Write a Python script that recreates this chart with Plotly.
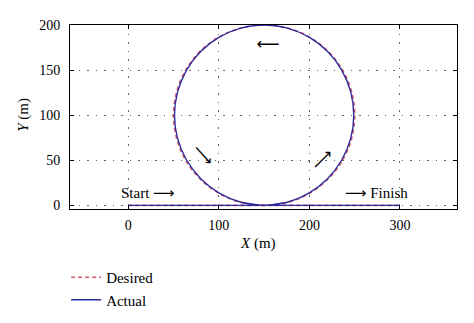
import plotly.graph_objects as go

# Straight runs along the x axis (start -> loop entry, loop exit -> finish)
line_x = [0, 150, 300]
line_y = [0, 0, 0]

# Desired loop waypoints every 15 degrees, counter-clockwise from the bottom
# (one extra waypoint on each end so the spline closes smoothly)
desired_cx = [124.1, 150, 175.9, 200, 220.7, 236.6, 246.6, 250, 246.6, 236.6, 220.7, 200, 175.9,
              150, 124.1, 100, 79.3, 63.4, 53.4, 50, 53.4, 63.4, 79.3, 100, 124.1, 150, 175.9]
desired_cy = [3.4, 0, 3.4, 13.4, 29.3, 50, 74.1, 100, 125.9, 150, 170.7, 186.6, 196.6,
              200, 196.6, 186.6, 170.7, 150, 125.9, 100, 74.1, 50, 29.3, 13.4, 3.4, 0, 3.4]

# Actual (tracked) loop waypoints
actual_cx = [124.4, 150, 175.6, 199.5, 220.0, 235.7, 245.6, 249.0, 245.6, 235.8, 220.1, 199.6, 175.7,
             150, 124.3, 100.4, 79.9, 64.2, 54.4, 51.0, 54.4, 64.3, 80.0, 100.5, 124.4, 150, 175.6]
actual_cy = [3.5, 0, 3.5, 13.7, 29.6, 50.3, 74.3, 100, 125.8, 149.8, 170.5, 186.5, 196.6,
             200, 196.6, 186.5, 170.5, 149.8, 125.8, 100, 74.3, 50.3, 29.6, 13.7, 3.5, 0, 3.5]

x_ticks = [0, 100, 200, 300]
y_ticks = [0, 50, 100, 150, 200]

FONT = "Liberation Serif"
RED = "#d2586a"
BLUE = "#2f2c9c"

fig = go.Figure()
fig.add_trace(go.Scatter(
    x=line_x, y=line_y, mode="lines", name="Desired", legendgroup="d",
    line=dict(color=RED, width=1.6, dash="4px,3px"),
))
fig.add_trace(go.Scatter(
    x=desired_cx, y=desired_cy, mode="lines", name="Desired", legendgroup="d", showlegend=False,
    line=dict(color=RED, width=1.6, dash="4px,3px", shape="spline"),
))
fig.add_trace(go.Scatter(
    x=line_x, y=line_y, mode="lines", name="Actual", legendgroup="a",
    line=dict(color=BLUE, width=1.4),
))
fig.add_trace(go.Scatter(
    x=actual_cx, y=actual_cy, mode="lines", name="Actual", legendgroup="a", showlegend=False,
    line=dict(color=BLUE, width=1.4, shape="spline"),
))

# Text labels
ARROW = "<span style='font-family:DejaVu Sans'>⟶</span>"
fig.add_annotation(x=22, y=14, text="Start " + ARROW,
                   showarrow=False, font=dict(family=FONT, size=15, color="black"))
fig.add_annotation(x=274, y=14, text=ARROW + " Finish",
                   showarrow=False, font=dict(family=FONT, size=15, color="black"))

# Direction-of-travel arrows
arrows = [
    dict(x=154, y=177.6, angle=180),
    dict(x=82.5, y=56, angle=48),
    dict(x=214, y=50.5, angle=-45),
]
for a in arrows:
    fig.add_annotation(x=a["x"], y=a["y"], text="⟶", showarrow=False, textangle=a["angle"],
                       font=dict(family="DejaVu Sans", size=16, color="black"))

# Axis titles
title_font = dict(family=FONT, size=15, color="black")
fig.add_annotation(xref="paper", yref="paper", x=0.486, y=-0.19, text="<i>X</i> (m)",
                   xanchor="center", yanchor="middle", showarrow=False, font=title_font)
fig.add_annotation(xref="paper", yref="paper", x=-0.12, y=0.51, text="<i>Y</i> (m)",
                   xanchor="center", yanchor="middle", showarrow=False, textangle=-90,
                   font=title_font)

axis_common = dict(
    showline=True, linecolor="black", linewidth=1, mirror="ticks",
    ticks="inside", ticklen=4, tickcolor="black",
    showgrid=True, gridcolor="#666", gridwidth=1, griddash="1.5px,7px",
    zeroline=False, automargin=False, tickfont=dict(family=FONT, size=14, color="black"),
)

fig.update_xaxes(range=[-64.4, 363], tickvals=x_ticks, ticklabelstandoff=3, **axis_common)
fig.update_yaxes(range=[-4, 200], tickvals=y_ticks, ticklabelstandoff=6, **axis_common)

fig.update_layout(
    width=474, height=323,
    margin=dict(l=70, r=17, t=25, b=114, autoexpand=False),
    paper_bgcolor="white", plot_bgcolor="white",
    showlegend=True,
    legend=dict(x=-0.01, y=-0.283, xanchor="left", yanchor="top",
                font=dict(family=FONT, size=15, color="black"),
                itemwidth=30, bgcolor="rgba(0,0,0,0)", tracegroupgap=0),
)

fig.write_html("out.html")
